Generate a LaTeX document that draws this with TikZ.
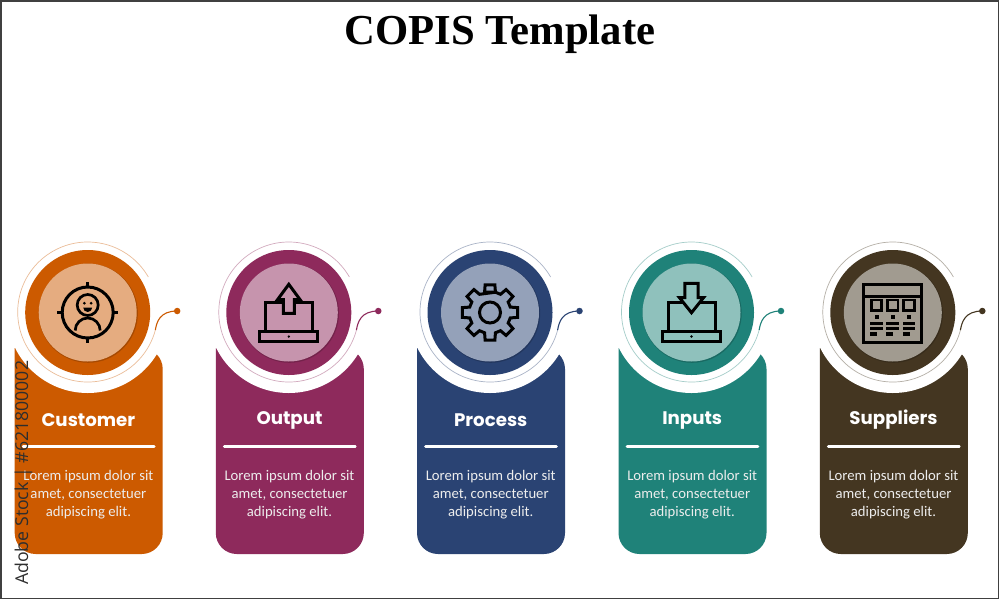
\documentclass[tikz,border=0pt]{standalone}
\usepackage{fontspec}
\setmainfont{Carlito}
\newfontfamily\headfont{Poppins}
\newfontfamily\titlefont{Liberation Serif}
\newfontfamily\markfont{Open Sans}
\definecolor{cOrange}{HTML}{CC5A00}
\definecolor{cMaroon}{HTML}{8E2A5C}
\definecolor{cNavy}{HTML}{2A4373}
\definecolor{cTeal}{HTML}{1F8279}
\definecolor{cBrown}{HTML}{443621}
\tikzset{
  headtext/.style={text=white,anchor=base,inner sep=0pt,font=\headfont\fontsize{18.2}{22}\selectfont\bfseries},
  bodytext/.style={text=white!93!black,align=center,inner sep=0pt,font=\fontsize{14.7}{18}\selectfont},
  iconline/.style={draw=black,line width=3pt,line join=miter},
  rule/.style={draw=white,line width=2.8pt,line cap=round},
  thinarc/.style={line width=.7pt},
  lead/.style={line width=1.1pt},
  enddot/.style={circle,inner sep=0pt,minimum size=6.5pt},
}
% #1 id, #2 centre x, #3 colour, #4 heading, #5 heading baseline, #6 icon macro
\newcommand{\pillar}[6]{%
  \fill[#3,rounded corners=21pt] (#2-73,-348) -- (#2-73,-554) -- (#2+75,-554) -- (#2+75,-348) [sharp corners] -- cycle;
  \fill[white] (#2,-312) circle[radius=81];
  \fill[#3] (#2,-312.5) circle[radius=62.5];
  \fill[black,opacity=.18] (#2+.6,-313.2) circle[radius=49.6];
  \fill[#3!50!white] (#2,-312.5) circle[radius=49];
  \coordinate (s#1) at (#2,-312);
  \draw[#3!40!white,thinarc] ([shift={(30:70)}]s#1) arc[start angle=30,end angle=345,radius=70] coordinate (a#1);
  \node[enddot,fill=#3] (d#1) at (#2+89.5,-311) {};
  \draw[#3,lead] (a#1) .. controls (#2+69,-322) and (#2+72,-311) .. (d#1.center);
  \node[headtext] (h#1) at (#2+.7,-#5) {#4};
  \coordinate (la#1) at (#2-64.5,-446.5);
  \coordinate (lb#1) at (#2+66.5,-446.5);
  \draw[rule] (la#1) -- (lb#1);
  \node[bodytext] (b#1) at (#2+.7,-494.5) {Lorem ipsum dolor sit\\amet, consectetuer\\adipiscing elit.};
  \begin{scope}[shift={(#2,-312.5)}]#6{#3!50!white}\end{scope}
}
\newcommand{\iconperson}[1]{%
  \draw[iconline] (0,0) circle[radius=25.5];
  \foreach \a in {0,90,180,270}{\draw[iconline] (\a:25.5) -- (\a:30.5);}
  \draw[iconline,line width=2.7pt] (0,7.5) circle[radius=10.5];
  \draw[iconline,line width=2.7pt] (-12.5,-18) arc[start angle=180,end angle=0,radius=12.5];
  \fill (-3.4,9.3) circle[radius=1.5] (3.4,9.3) circle[radius=1.5];
  \fill (-4.5,5) arc[start angle=180,end angle=360,radius=4.5] -- cycle;
}
\newcommand{\icongear}[1]{%
  \draw[iconline] (0,0) circle[radius=10.5];
  \draw[iconline,line join=miter] (90-15:21)
    \foreach \a in {90,45,0,-45,-90,-135,-180,-225}{
      -- (\a+15:21) -- (\a+10:28) -- (\a-10:28) -- (\a-15:21)
    } -- cycle;
}
\newcommand{\laptopbody}{%
  \draw[iconline] (-23.5,-19.2) -- (-23.5,9.8) -- (23.5,9.8) -- (23.5,-19.2);
  \draw[iconline] (-29,-19.2) rectangle (29,-29.2);
  \fill (0,-24) circle[radius=1.3];
}
\newcommand{\iconupload}[1]{%
  \laptopbody
  \draw[iconline,fill=#1] (0,28.2) -- (11.3,12.8) -- (5.5,12.8) -- (5.5,-.8) -- (-5.5,-.8) -- (-5.5,12.8) -- (-11.3,12.8) -- cycle;
}
\newcommand{\icondownload}[1]{%
  \laptopbody
  \draw[iconline,fill=#1] (0,-.2) -- (12,14.8) -- (6.7,14.8) -- (6.7,29.2) -- (-6.7,29.2) -- (-6.7,14.8) -- (-12,14.8) -- cycle;
}
\newcommand{\icontable}[1]{%
  \draw[iconline] (-29,28.5) rectangle (29,-29.5);
  \draw[iconline] (-29,16.5) -- (29,16.5);
  \foreach \x in {-16.2,0,16.2}{
    \draw[iconline,line width=2.7pt] (\x-5.2,12.4) rectangle ++(10.4,-10.4);
    \fill (\x-2,-2.2) rectangle ++(4,-3.8);
    \fill (\x-6.4,-9) rectangle ++(12.8,-3);
    \fill (\x-6.4,-14) rectangle ++(12.8,-3);
    \fill (\x-6.4,-19.4) rectangle ++(7,-3.6);
  }
}
\begin{document}
\begin{tikzpicture}[x=1pt,y=1pt]
\useasboundingbox (0,0) rectangle (1000,-600);
\fill[white] (0,0) rectangle (1000,-600);
\draw[black!75,line width=1.2pt] (1,-1) rectangle (998.5,-598.5);
\node[inner sep=0pt,anchor=base,font=\titlefont\fontsize{42.7}{48}\selectfont\bfseries] (title) at (500,-44) {COPIS Template};
\pillar{A}{87.7}{cOrange}{Customer}{426}{\iconperson}
\pillar{B}{288.8}{cMaroon}{Output}{424}{\iconupload}
\pillar{C}{490}{cNavy}{Process}{426}{\icongear}
\pillar{D}{691.5}{cTeal}{Inputs}{424}{\icondownload}
\pillar{E}{892.8}{cBrown}{Suppliers}{424}{\icontable}
\node[rotate=90,anchor=west,inner sep=0pt,text=black!82,font=\markfont\fontsize{17.7}{20}\selectfont] (mark) at (23.5,-585) {Adobe Stock | \#621800002};
\end{tikzpicture}
\end{document}
